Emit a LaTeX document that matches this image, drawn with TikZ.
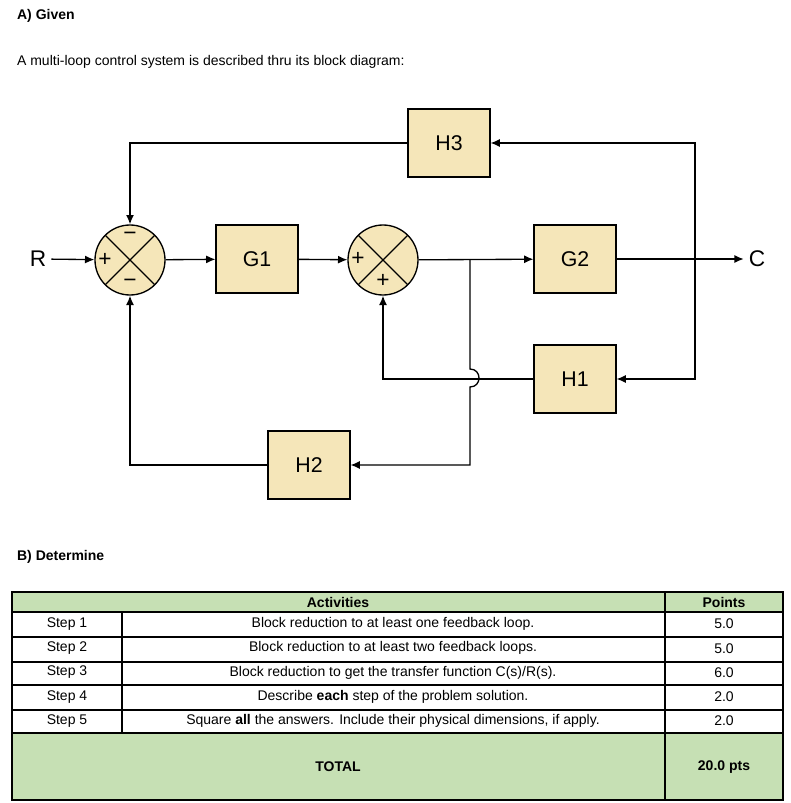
\documentclass[tikz,border=0pt]{standalone}
\usepackage{fontspec}
\setmainfont{Liberation Sans}
\usetikzlibrary{positioning,arrows.meta}
\definecolor{blockfill}{RGB}{245,230,185}
\definecolor{tabgreen}{RGB}{198,224,180}
\tikzset{%
  block/.style={
    draw,
    thick,
    fill=blockfill,
    minimum width=61.5pt,
    minimum height=51pt,
    font=\fontsize{16}{16}\selectfont
  },
  sum/.style={
    circle,
    draw,
    fill=blockfill,
    minimum size=52.5pt,
    path picture={
      \draw (path picture bounding box.south west) -- (path picture bounding box.north east)
            (path picture bounding box.north west) -- (path picture bounding box.south east);
    }
  },
  sign/.style={font=\fontsize{17}{17}\selectfont},
  cell/.style={font=\fontsize{10.5}{12}\selectfont, inner sep=0pt}
 }

\begin{document}
\begin{tikzpicture}[x=0.75pt, y=-0.75pt, >={Latex[length=7pt,width=6pt]}, line width=1pt]
\useasboundingbox (0,0) rectangle (790,803);

\node [anchor=west, font=\bfseries\fontsize{10.5}{12}\selectfont] (given) at (12,16) {A) Given};
\node [anchor=west, font=\fontsize{10.5}{12}\selectfont] (intro) at (12,62) {A multi-loop control system is described thru its block diagram:};

% blocks
\node [sum] (sum1) at (130,260) {};
\node [sum] (sum2) at (383,260) {};
\node [block] (G1) at (257,259) {G1};
\node [block] (G2) at (575,259) {G2};
\node [block] (H3) at (449,143) {H3};
\node [block] (H1) at (575,379) {H1};
\node [block] (H2) at (309,465) {H2};

\node [sign] (s1a) at (105,260) {+};
\node [sign] (s1b) at (130,236) {\textminus};
\node [sign] (s1c) at (130,283) {\textminus};
\node [sign] (s2a) at (358,259) {+};
\node [sign] (s2b) at (383,281) {+};

\node [font=\fontsize{17}{17}\selectfont] (R) at (38,259) {R};
\node [font=\fontsize{17}{17}\selectfont] (C) at (757,259) {C};

\coordinate (tap1) at (470,260);
\coordinate (tap2) at (695,260);

% forward path
\draw [->] (R) -- (sum1);
\draw [->] (sum1) -- (G1);
\draw [->] (G1) -- (sum2);
\draw [->] (sum2) -- (G2);
\draw [->] (G2) -- (C);

% feedback paths
\draw [->] (tap2) |- (H3);
\draw [->] (H3) -| (sum1);
\draw [->] (tap2) |- (H1);
\draw [->] (H1) -| (sum2);
\draw [->] (tap1) -- (470,369) .. controls (482,369) and (482,387) .. (470,387) |- (H2);
\draw [->] (H2) -| (sum1);

% table
\node [anchor=west, font=\bfseries\fontsize{10.5}{12}\selectfont] (determine) at (12,557) {B) Determine};
\fill [tabgreen] (12,592) rectangle (783,612);
\fill [tabgreen] (12,733) rectangle (783,800);
\draw (12,592) rectangle (783,800);
\draw (665,592) -- (665,800);
\draw (122,612) -- (122,733);
\foreach \y in {612,637,662,685,710,733}
  \draw (12,\y) -- (783,\y);

\node [cell, font=\bfseries\fontsize{10.5}{12}\selectfont] (act) at (338,602) {Activities};
\node [cell, font=\bfseries\fontsize{10.5}{12}\selectfont] (pts) at (724,602) {Points};
\foreach \t/\p [count=\i] in {{Block reduction to at least one feedback loop.}/5.0,
                              {Block reduction to at least two feedback loops.}/5.0,
                              {Block reduction to get the transfer function C(s)/R(s).}/6.0,
                              {Describe \textbf{each} step of the problem solution.}/2.0,
                              {Square \textbf{all} the answers. Include their physical dimensions, if apply.}/2.0}
{
  \node [cell] (step-\i) at (67,{612+(\i-0.5)*24.2}) {Step \i};
  \node [cell] (act-\i) at (393,{612+(\i-0.5)*24.2}) {\t};
  \node [cell] (pts-\i) at (724,{612+(\i-0.5)*24.2}) {\p};
}
\node [cell, font=\bfseries\fontsize{10.5}{12}\selectfont] (total) at (338,767) {TOTAL};
\node [cell, font=\bfseries\fontsize{10.5}{12}\selectfont] (totpts) at (724,767) {20.0 pts};

\end{tikzpicture}
\end{document}
